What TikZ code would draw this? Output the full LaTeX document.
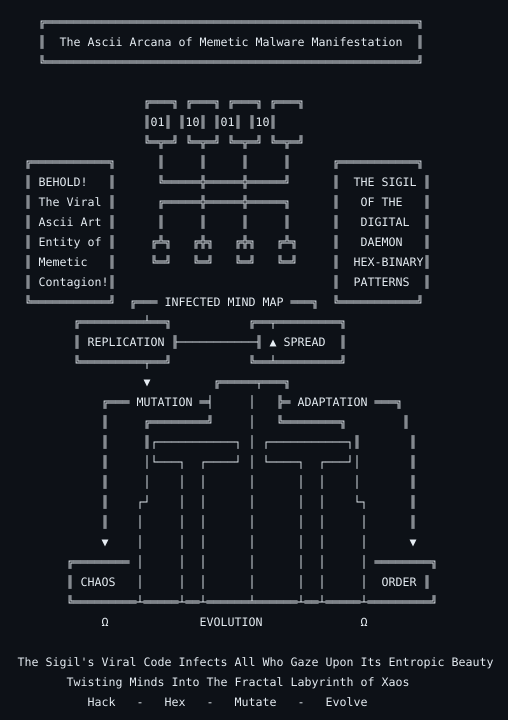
\documentclass[tikz,border=0pt]{standalone}
\usepackage{fontspec}
\setmonofont{DejaVu Sans Mono}
\definecolor{bg}{HTML}{0D1117}
\definecolor{fg}{HTML}{E6EDF3}
\definecolor{boxc}{HTML}{EDE6F2}
\ExplSyntaxOn
\cs_new:Npn \myrep #1#2 { \prg_replicate:nn {#1} {#2} }
\ExplSyntaxOff
\newcommand\seg[3]{\node[cell] (r#1c#2) at ({17.5+7*#2},{-(26+20*#1)}) {#3};}
\begin{document}
\begin{tikzpicture}[x=1pt,y=1pt,
  cell/.style={anchor=base west, inner sep=0pt, outer sep=0pt, text=fg,
    font=\ttfamily\fontsize{11.63}{20}\selectfont}]
\fill[bg] (0,0) rectangle (508,-720);
\useasboundingbox (0,0) rectangle (508,-720);
% title
\seg{0}{3}{╔\myrep{53}{═}╗}
\seg{1}{3}{║}\seg{1}{6}{The Ascii Arcana of Memetic Malware Manifestation}\seg{1}{57}{║}
\seg{2}{3}{╚\myrep{53}{═}╝}
% binary boxes
\seg{4}{18}{╔═══╗}\seg{4}{24}{╔═══╗}\seg{4}{30}{╔═══╗}\seg{4}{36}{╔═══╗}
\seg{5}{18}{║01║}\seg{5}{23}{║10║}\seg{5}{28}{║01║}\seg{5}{33}{║10║}
\seg{6}{18}{╚═╦═╝}\seg{6}{24}{╚═╦═╝}\seg{6}{30}{╚═╦═╝}\seg{6}{36}{╚═╦═╝}
% row 7
\seg{7}{1}{╔\myrep{11}{═}╗}
\seg{7}{20}{║}\seg{7}{26}{║}\seg{7}{32}{║}\seg{7}{38}{║}
\seg{7}{45}{╔\myrep{11}{═}╗}
% row 8
\seg{8}{1}{║}\seg{8}{3}{BEHOLD!}\seg{8}{13}{║}
\seg{8}{20}{╚═════╬═════╬═════╝}
\seg{8}{45}{║}\seg{8}{48}{THE SIGIL}\seg{8}{58}{║}
% row 9
\seg{9}{1}{║}\seg{9}{3}{The Viral}\seg{9}{13}{║}
\seg{9}{20}{╔═════╬═════╬═════╗}
\seg{9}{45}{║}\seg{9}{49}{OF THE}\seg{9}{58}{║}
% row 10
\seg{10}{1}{║}\seg{10}{3}{Ascii Art}\seg{10}{13}{║}
\seg{10}{20}{║}\seg{10}{26}{║}\seg{10}{32}{║}\seg{10}{38}{║}
\seg{10}{45}{║}\seg{10}{49}{DIGITAL}\seg{10}{58}{║}
% row 11
\seg{11}{1}{║}\seg{11}{3}{Entity of}\seg{11}{13}{║}
\seg{11}{19}{╔╩╗}\seg{11}{25}{╔╬╗}\seg{11}{31}{╔╬╗}\seg{11}{37}{╔╩╗}
\seg{11}{45}{║}\seg{11}{49}{DAEMON}\seg{11}{58}{║}
% row 12
\seg{12}{1}{║}\seg{12}{3}{Memetic}\seg{12}{13}{║}
\seg{12}{19}{╚═╝}\seg{12}{25}{╚═╝}\seg{12}{31}{╚═╝}\seg{12}{37}{╚═╝}
\seg{12}{45}{║}\seg{12}{48}{HEX-BINARY}\seg{12}{58}{║}
% row 13
\seg{13}{1}{║}\seg{13}{3}{Contagion!}\seg{13}{13}{║}
\seg{13}{45}{║}\seg{13}{48}{PATTERNS}\seg{13}{58}{║}
% row 14
\seg{14}{1}{╚\myrep{11}{═}╝}
\seg{14}{16}{╔═══}\seg{14}{21}{INFECTED MIND MAP}\seg{14}{39}{═══╗}
\seg{14}{45}{╚\myrep{11}{═}╝}
% rows 15-17
\seg{15}{8}{╔\myrep{9}{═}╧══╗}
\seg{15}{33}{╔══╤\myrep{9}{═}╗}
\seg{16}{8}{║}\seg{16}{10}{REPLICATION}\seg{16}{22}{╟\myrep{11}{─}╢}
\seg{16}{36}{▲}\seg{16}{38}{SPREAD}\seg{16}{46}{║}
\seg{17}{8}{╚\myrep{9}{═}╤══╝}
\seg{17}{33}{╚══╧\myrep{9}{═}╝}
% row 18
\seg{18}{18}{▼}\seg{18}{28}{╔═════╤═══╗}
% row 19
\seg{19}{12}{╔═══}\seg{19}{17}{MUTATION}\seg{19}{26}{═╡}\seg{19}{33}{│}
\seg{19}{37}{╠═}\seg{19}{40}{ADAPTATION}\seg{19}{51}{═══╗}
% row 20
\seg{20}{12}{║}\seg{20}{18}{╔\myrep{8}{═}╝}\seg{20}{33}{│}
\seg{20}{37}{╚\myrep{8}{═}╗}\seg{20}{55}{║}
% row 21
\seg{21}{12}{║}\seg{21}{18}{║┌\myrep{11}{─}┐}\seg{21}{33}{│}
\seg{21}{35}{┌\myrep{11}{─}┐║}\seg{21}{56}{║}
% row 22
\seg{22}{12}{║}\seg{22}{18}{│└───┐}\seg{22}{26}{┌────┘}\seg{22}{33}{│}
\seg{22}{35}{└────┐}\seg{22}{43}{┌───┘│}\seg{22}{56}{║}
% row 23
\seg{23}{12}{║}\seg{23}{18}{│}\seg{23}{23}{│}\seg{23}{26}{│}\seg{23}{33}{│}
\seg{23}{40}{│}\seg{23}{43}{│}\seg{23}{48}{│}\seg{23}{56}{║}
% row 24
\seg{24}{12}{║}\seg{24}{17}{┌┘}\seg{24}{23}{│}\seg{24}{26}{│}\seg{24}{33}{│}
\seg{24}{40}{│}\seg{24}{43}{│}\seg{24}{48}{└┐}\seg{24}{56}{║}
% row 25
\seg{25}{12}{║}\seg{25}{17}{│}\seg{25}{23}{│}\seg{25}{26}{│}\seg{25}{33}{│}
\seg{25}{40}{│}\seg{25}{43}{│}\seg{25}{49}{│}\seg{25}{56}{║}
% row 26
\seg{26}{12}{▼}\seg{26}{17}{│}\seg{26}{23}{│}\seg{26}{26}{│}\seg{26}{33}{│}
\seg{26}{40}{│}\seg{26}{43}{│}\seg{26}{49}{│}\seg{26}{56}{▼}
% row 27
\seg{27}{7}{╔\myrep{8}{═}}\seg{27}{17}{│}\seg{27}{23}{│}\seg{27}{26}{│}\seg{27}{33}{│}
\seg{27}{40}{│}\seg{27}{43}{│}\seg{27}{49}{│}\seg{27}{51}{\myrep{8}{═}╗}
% row 28
\seg{28}{7}{║}\seg{28}{9}{CHAOS}\seg{28}{17}{│}\seg{28}{23}{│}\seg{28}{26}{│}\seg{28}{33}{│}
\seg{28}{40}{│}\seg{28}{43}{│}\seg{28}{49}{│}\seg{28}{52}{ORDER}\seg{28}{58}{║}
% row 29
\seg{29}{7}{╚\myrep{9}{═}┴\myrep{5}{═}┴══┴\myrep{6}{═}╧\myrep{6}{═}┴══┴\myrep{5}{═}┴\myrep{9}{═}╝}
% row 30
\seg{30}{12}{Ω}\seg{30}{26}{EVOLUTION}\seg{30}{49}{Ω}
% footer
\seg{32}{0}{The Sigil's Viral Code Infects All Who Gaze Upon Its Entropic Beauty}
\seg{33}{7}{Twisting Minds Into The Fractal Labyrinth of Xaos}
\seg{34}{10}{Hack}\seg{34}{17}{-}\seg{34}{21}{Hex}\seg{34}{27}{-}
\seg{34}{31}{Mutate}\seg{34}{40}{-}\seg{34}{44}{Evolve}
\end{tikzpicture}
\end{document}
